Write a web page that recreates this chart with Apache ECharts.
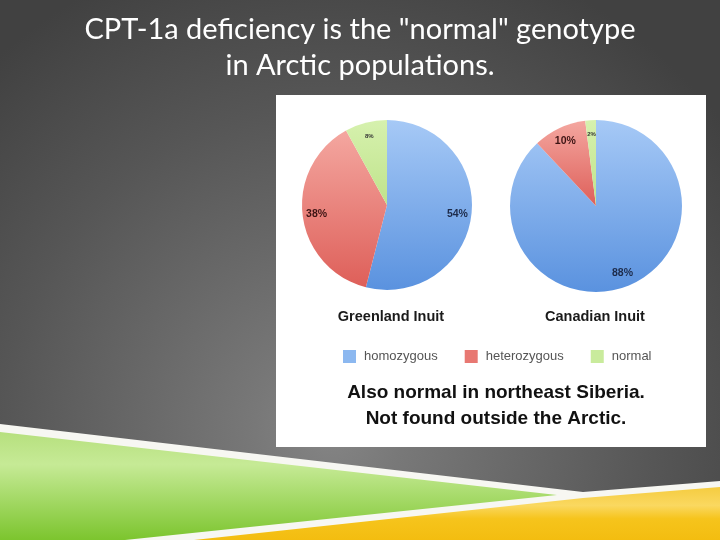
<!DOCTYPE html>
<html>
<head>
<meta charset="utf-8">
<script src="https://cdn.jsdelivr.net/npm/echarts@6/dist/echarts.min.js"></script>
<style>html,body{margin:0;padding:0;background:#4a4a4a;}#main{width:720px;height:540px;}</style>
</head>
<body>
<div id="main"></div>
<script>
// ---- data ----
var categories = ['homozygous', 'heterozygous', 'normal'];
var greenlandValues = [54, 38, 8];
var canadianValues = [88, 10, 2];
var pieTitles = ['Greenland Inuit', 'Canadian Inuit'];
var slideTitle = ['CPT-1a deficiency is the "normal" genotype', 'in Arctic populations.'];
var noteLines = ['Also normal in northeast Siberia.', 'Not found outside the Arctic.'];

// ---- styles ----
var sliceGrad = [
  ['#a6c9f6', '#5a92df'],
  ['#f4a7a0', '#de5f59'],
  ['#d6f1ae', '#bfe38b']
];
var legendColors = ['#8cb8f0', '#e87872', '#c9eb9c'];
var labelColors = ['#1d2b4a', '#3d1414', '#333333'];
var smallLabelThreshold = 9;

function grad(c) {
  return {type: 'linear', x: 0, y: 0, x2: 0, y2: 1,
    colorStops: [{offset: 0, color: c[0]}, {offset: 1, color: c[1]}]};
}
function fillData(vals) {
  return vals.map(function (v, i) {
    return {name: categories[i], value: v, itemStyle: {color: grad(sliceGrad[i])}};
  });
}
function labelData(vals) {
  return vals.map(function (v, i) {
    return {name: categories[i], value: v,
      label: {color: labelColors[i], fontSize: v < smallLabelThreshold ? 6 : 10.5}};
  });
}
function fillPie(vals, center, r) {
  return {type: 'pie', center: center, radius: r, startAngle: 90, clockwise: true,
    data: fillData(vals), label: {show: false}, labelLine: {show: false},
    itemStyle: {borderWidth: 0}, silent: true, z: 3};
}
function labelPie(vals, center, r) {
  return {type: 'pie', center: center, radius: [Math.round(r * 0.6), r], startAngle: 90,
    clockwise: true, data: labelData(vals), silent: true, z: 4,
    itemStyle: {color: 'rgba(0,0,0,0)', borderWidth: 0},
    label: {show: true, position: 'inside', formatter: '{c}%', fontFamily: 'Liberation Sans',
      fontWeight: 'bold'},
    labelLine: {show: false}, legendHoverLink: false};
}

var chart = echarts.init(document.getElementById('main'), null, {renderer: 'canvas'});
var option = {
  animation: false,
  legend: {
    data: categories.map(function (c, i) {
      return {name: c, itemStyle: {color: legendColors[i]}};
    }),
    left: 338, top: 345, itemWidth: 13, itemHeight: 13, itemGap: 27, icon: 'rect',
    selectedMode: false,
    textStyle: {fontFamily: 'Liberation Sans', fontSize: 13, color: '#555555', padding: [0, 0, 0, 3]}
  },
  graphic: [
    {type: 'rect', z: -10, silent: true, shape: {x: 0, y: 0, width: 720, height: 540},
      style: {fill: {type: 'radial', x: 330, y: 430, r: 500, global: true,
        colorStops: [{offset: 0, color: '#858585'}, {offset: 0.15, color: '#787878'},
          {offset: 0.65, color: '#565656'}, {offset: 1, color: '#414141'}]}}},
    // white stripe base
    {type: 'polygon', z: -9, silent: true,
      shape: {points: [[0, 424], [583, 492], [720, 481], [720, 540], [0, 540]]},
      style: {fill: '#f7f7f2'}},
    // green wedge
    {type: 'polygon', z: -8, silent: true,
      shape: {points: [[0, 432], [557, 495], [125, 540], [0, 540]]},
      style: {fill: {type: 'linear', x: 0, y: 0, x2: 0, y2: 1,
        colorStops: [{offset: 0, color: '#b6e07e'}, {offset: 0.3, color: '#c6ea96'}, {offset: 1, color: '#7cc52e'}]}}},
    // yellow wedge
    {type: 'polygon', z: -8, silent: true,
      shape: {points: [[194, 540], [583, 498], [720, 487], [720, 540]]},
      style: {fill: {type: 'linear', x: 0, y: 0, x2: 0, y2: 1,
        colorStops: [{offset: 0, color: '#f5cc40'}, {offset: 0.35, color: '#fad860'}, {offset: 0.6, color: '#f6c41c'}, {offset: 1, color: '#f3bd10'}]}}},
    // white panel
    {type: 'rect', z: -7, silent: true, shape: {x: 276, y: 95, width: 430, height: 352},
      style: {fill: '#ffffff'}},
    // slide title
    {type: 'text', z: 5, silent: true, x: 360, y: 30,
      style: {text: slideTitle[0], fill: '#ffffff', font: '29px Lato', textAlign: 'center', textVerticalAlign: 'middle'}},
    {type: 'text', z: 5, silent: true, x: 360, y: 66,
      style: {text: slideTitle[1], fill: '#ffffff', font: '29px Lato', textAlign: 'center', textVerticalAlign: 'middle'}},
    // pie titles
    {type: 'text', z: 5, silent: true, x: 391, y: 317,
      style: {text: pieTitles[0], fill: '#1a1a1a', font: 'bold 14.5px "Liberation Sans"', textAlign: 'center', textVerticalAlign: 'middle'}},
    {type: 'text', z: 5, silent: true, x: 595, y: 317,
      style: {text: pieTitles[1], fill: '#1a1a1a', font: 'bold 14.5px "Liberation Sans"', textAlign: 'center', textVerticalAlign: 'middle'}},
    // notes
    {type: 'text', z: 5, silent: true, x: 496, y: 393,
      style: {text: noteLines[0], fill: '#111111', font: 'bold 19px "Liberation Sans"', textAlign: 'center', textVerticalAlign: 'middle'}},
    {type: 'text', z: 5, silent: true, x: 496, y: 419,
      style: {text: noteLines[1], fill: '#111111', font: 'bold 19px "Liberation Sans"', textAlign: 'center', textVerticalAlign: 'middle'}}
  ],
  series: [
    fillPie(greenlandValues, [387, 205], 85),
    labelPie(greenlandValues, [387, 205], 85),
    fillPie(canadianValues, [596, 206], 86),
    labelPie(canadianValues, [596, 206], 86)
  ]
};
chart.setOption(option);
</script>
</body>
</html>
